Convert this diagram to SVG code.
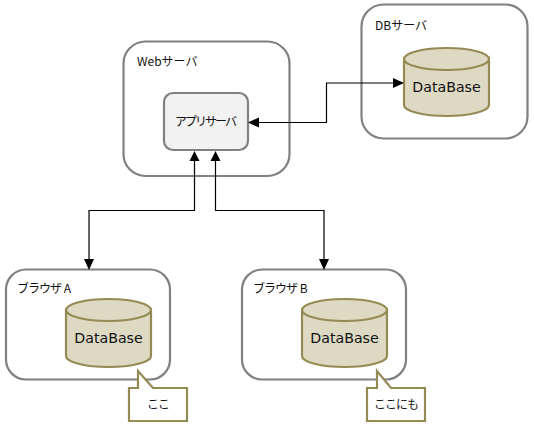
<svg xmlns="http://www.w3.org/2000/svg" width="534" height="427" viewBox="0 0 534 427">
<style>
text{font-family:"Noto Sans CJK JP","Liberation Sans",sans-serif;fill:#111}
.box{fill:#fff;stroke:#808080;stroke-width:2.2}
.app{fill:#f2f2f2;stroke:#808080;stroke-width:2.2}
.cyl{fill:#ddd9c3;stroke:#948a54;stroke-width:2.2}
.call{fill:#fff;stroke:#948a54;stroke-width:2.2}
.lbl{font-size:12px}
.tight{letter-spacing:-1px}
.db{font-size:14.2px;font-family:"DejaVu Sans",sans-serif;text-anchor:middle}
.mid{font-size:12px;text-anchor:middle}
.con{fill:none;stroke:#000;stroke-width:1.2}
.a{fill:#000}
</style>
<defs>
<g id="cyl">
<path class="cyl" d="M0 11A42.5 11 0 0 1 85 11V57A42.5 11 0 0 1 0 57Z"/>
<path class="cyl" d="M0 11A42.5 11 0 0 0 85 11"/>
<text class="db" x="42.500" y="44">DataBase</text>
</g>
</defs>
<g id="web">
<rect class="box" x="123.500" y="41.500" width="166" height="134.500" rx="22"/>
<text class="lbl" x="137" y="66">Webサーバ</text>
</g>
<g id="app">
<rect class="app" x="164" y="93" width="84" height="57" rx="9"/>
<text class="mid" x="205" y="126" style="letter-spacing:-2px">アプリサーバ</text>
</g>
<g id="dbserver">
<rect class="box" x="361.500" y="4.500" width="166" height="134" rx="22"/>
<text class="lbl" x="375" y="30">DBサーバ</text>
<use href="#cyl" x="404" y="48"/>
</g>
<g id="browserA">
<rect class="box" x="6" y="269.500" width="164" height="110" rx="20"/>
<text class="lbl" x="17" y="293"><tspan class="tight">ブラウザ</tspan> A</text>
<use href="#cyl" x="66" y="299"/>
</g>
<g id="browserB">
<rect class="box" x="242" y="269.500" width="164" height="110" rx="20"/>
<text class="lbl" x="253" y="293"><tspan class="tight">ブラウザ</tspan> B</text>
<use href="#cyl" x="302" y="299"/>
</g>
<g id="calloutA">
<path class="call" d="M129 388H138V371L153 388H187V421H129Z"/>
<text class="mid tight" x="158" y="409">ここ</text>
</g>
<g id="calloutB">
<path class="call" d="M367 388H377V371L391 388H425V421H367Z"/>
<text class="mid tight" x="396" y="409">ここにも</text>
</g>
<g id="connectors">
<path class="con" d="M258 122.500H326.500V83H395"/>
<path class="a" d="M248 122.500L259 117.500V127.500Z"/>
<path class="a" d="M404 83L393 78V88Z"/>
<path class="con" d="M194.500 160V210.500H89V260"/>
<path class="a" d="M194.500 151L189.500 161H199.500Z"/>
<path class="a" d="M89 270L84 259H94Z"/>
<path class="con" d="M215.500 160V210.500H324V260"/>
<path class="a" d="M215.500 151L210.500 161H220.500Z"/>
<path class="a" d="M324 270L319 259H329Z"/>
</g>
</svg>
